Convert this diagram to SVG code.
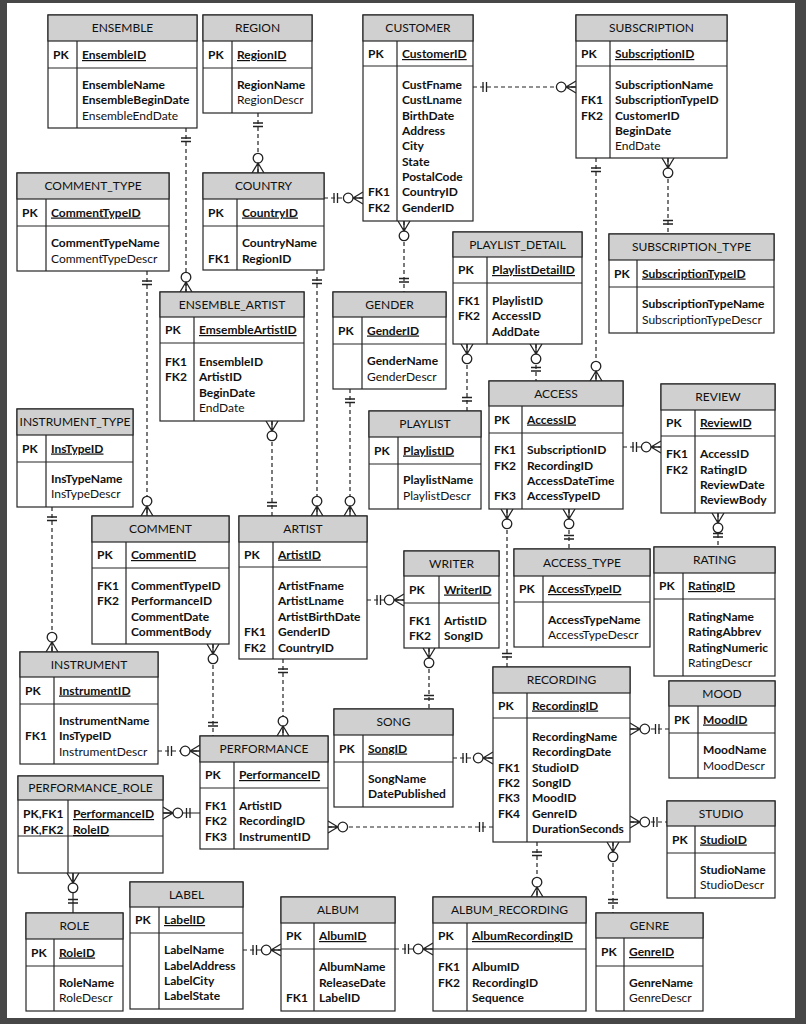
<svg xmlns="http://www.w3.org/2000/svg" width="806" height="1024" viewBox="0 0 806 1024">
<defs>
<style>
.b0{fill:#fff;stroke:#262626;stroke-width:1.2}
.hd{fill:#d0d0d0;stroke:#262626;stroke-width:1.2}
.ln{fill:none;stroke:#262626;stroke-width:1.2}
text{font-family:Lato,'Liberation Sans',sans-serif;font-size:12px;fill:#111}
.t{text-anchor:middle}
.k,.b,.pk{font-weight:bold}
.pk{text-decoration:underline}
.c{fill:none;stroke:#222;stroke-width:1.2;stroke-dasharray:4 3}
.s{stroke-dasharray:none}
.m{fill:none;stroke:#222;stroke-width:1.3}
.mc{fill:#fff;stroke:#222;stroke-width:1.3}
</style>
<marker id="many" markerUnits="userSpaceOnUse" orient="auto-start-reverse" overflow="visible" refX="0" refY="0" markerWidth="1" markerHeight="1">
<path class="m" d="M-10,0L0,-6M-10,0L0,6M-10,0L0,0"/>
<circle class="mc" cx="-14.8" cy="0" r="4.8"/>
</marker>
<marker id="one" markerUnits="userSpaceOnUse" orient="auto-start-reverse" overflow="visible" refX="0" refY="0" markerWidth="1" markerHeight="1">
<path class="m" d="M-10,-5V5M-13.5,-5V5"/>
</marker>
</defs>
<rect x="0" y="0" width="806" height="1024" fill="#474747"/>
<rect x="7" y="3" width="788" height="1015" fill="#fff"/>

<g id="connectors">
<path class="c" d="M186,128V292" marker-start="url(#one)" marker-end="url(#many)"/>
<path class="c" d="M258,113V173" marker-start="url(#one)" marker-end="url(#many)"/>
<path class="c" d="M324,198H363" marker-start="url(#one)" marker-end="url(#many)"/>
<path class="c" d="M473,87H576" marker-start="url(#one)" marker-end="url(#many)"/>
<path class="c" d="M404,221V292" marker-start="url(#many)" marker-end="url(#one)"/>
<path class="c" d="M668,158V234" marker-start="url(#many)" marker-end="url(#one)"/>
<path class="c" d="M596,158V381" marker-start="url(#one)" marker-end="url(#many)"/>
<path class="c" d="M147,271V516" marker-start="url(#one)" marker-end="url(#many)"/>
<path class="c" d="M317,270V516" marker-start="url(#one)" marker-end="url(#many)"/>
<path class="c" d="M272,421V516" marker-start="url(#many)" marker-end="url(#one)"/>
<path class="c" d="M350,389V516" marker-start="url(#one)" marker-end="url(#many)"/>
<path class="c" d="M467,344V411" marker-start="url(#many)" marker-end="url(#one)"/>
<path class="c" d="M536,344V381" marker-start="url(#many)" marker-end="url(#one)"/>
<path class="c" d="M623,447H661" marker-start="url(#one)" marker-end="url(#many)"/>
<path class="c" d="M569,509V549" marker-start="url(#many)" marker-end="url(#one)"/>
<path class="c" d="M718,513V547" marker-start="url(#many)" marker-end="url(#one)"/>
<path class="c" d="M507,509V667" marker-start="url(#many)" marker-end="url(#one)"/>
<path class="c" d="M52,507V652" marker-start="url(#one)" marker-end="url(#many)"/>
<path class="c" d="M213,644V736" marker-start="url(#many)" marker-end="url(#one)"/>
<path class="c" d="M158,751H200" marker-start="url(#one)" marker-end="url(#many)"/>
<path class="c" d="M283,659V736" marker-start="url(#one)" marker-end="url(#many)"/>
<path class="c" d="M367,600H404" marker-start="url(#one)" marker-end="url(#many)"/>
<path class="c" d="M429,648V709" marker-start="url(#many)" marker-end="url(#one)"/>
<path class="c" d="M453,758H493" marker-start="url(#one)" marker-end="url(#many)"/>
<path class="c" d="M328,827H493" marker-start="url(#many)" marker-end="url(#one)"/>
<path class="c s" d="M163,813H200" marker-start="url(#many)" marker-end="url(#one)"/>
<path class="c" d="M630,729H669" marker-start="url(#many)" marker-end="url(#one)"/>
<path class="c" d="M630,822H667" marker-start="url(#many)" marker-end="url(#one)"/>
<path class="c" d="M613,842V913" marker-start="url(#many)" marker-end="url(#one)"/>
<path class="c" d="M537,842V897" marker-start="url(#one)" marker-end="url(#many)"/>
<path class="c" d="M395,949H433" marker-start="url(#one)" marker-end="url(#many)"/>
<path class="c" d="M243,950H281" marker-start="url(#one)" marker-end="url(#many)"/>
<path class="c s" d="M73,873V913" marker-start="url(#many)" marker-end="url(#one)"/>
</g>

<g id="ensemble">
<rect class="b0" x="48" y="15" width="149" height="113"/>
<rect class="hd" x="48" y="15" width="149" height="26"/>
<path class="ln" d="M48,68H197M77,41V128"/>
<text class="t" x="122.5" y="32">ENSEMBLE</text>
<text class="k" x="53" y="59">PK</text>
<text class="pk" x="82" y="59">EnsembleID</text>
<text class="b" x="82" y="89">EnsembleName</text>
<text class="b" x="82" y="104">EnsembleBeginDate</text>
<text x="82" y="120">EnsembleEndDate</text>
</g>

<g id="region">
<rect class="b0" x="203" y="15" width="109" height="98"/>
<rect class="hd" x="203" y="15" width="109" height="26"/>
<path class="ln" d="M203,68H312M232,41V113"/>
<text class="t" x="257.5" y="32">REGION</text>
<text class="k" x="208" y="59">PK</text>
<text class="pk" x="237" y="59">RegionID</text>
<text class="b" x="237" y="89">RegionName</text>
<text x="237" y="104">RegionDescr</text>
</g>

<g id="customer">
<rect class="b0" x="363" y="15" width="110" height="206"/>
<rect class="hd" x="363" y="15" width="110" height="26"/>
<path class="ln" d="M363,66H473M397,41V221"/>
<text class="t" x="418" y="32">CUSTOMER</text>
<text class="k" x="368" y="58">PK</text>
<text class="pk" x="402" y="58">CustomerID</text>
<text class="b" x="402" y="89">CustFname</text>
<text class="b" x="402" y="104">CustLname</text>
<text class="b" x="402" y="120">BirthDate</text>
<text class="b" x="402" y="135">Address</text>
<text class="b" x="402" y="150">City</text>
<text class="b" x="402" y="166">State</text>
<text class="b" x="402" y="181">PostalCode</text>
<text class="k" x="368" y="196">FK1</text>
<text class="b" x="402" y="196">CountryID</text>
<text class="k" x="368" y="212">FK2</text>
<text class="b" x="402" y="212">GenderID</text>
</g>

<g id="subscription">
<rect class="b0" x="576" y="15" width="151" height="143"/>
<rect class="hd" x="576" y="15" width="151" height="26"/>
<path class="ln" d="M576,66H727M610,41V158"/>
<text class="t" x="651.5" y="32">SUBSCRIPTION</text>
<text class="k" x="581" y="58">PK</text>
<text class="pk" x="615" y="58">SubscriptionID</text>
<text class="b" x="615" y="89">SubscriptionName</text>
<text class="k" x="581" y="104">FK1</text>
<text class="b" x="615" y="104">SubscriptionTypeID</text>
<text class="k" x="581" y="120">FK2</text>
<text class="b" x="615" y="120">CustomerID</text>
<text class="b" x="615" y="135">BeginDate</text>
<text x="615" y="150">EndDate</text>
</g>

<g id="subscription_type">
<rect class="b0" x="609" y="234" width="165" height="99"/>
<rect class="hd" x="609" y="234" width="165" height="26"/>
<path class="ln" d="M609,287H774M637,260V333"/>
<text class="t" x="691.5" y="251">SUBSCRIPTION_TYPE</text>
<text class="k" x="614" y="277.5">PK</text>
<text class="pk" x="642" y="277.5">SubscriptionTypeID</text>
<text class="b" x="642" y="308">SubscriptionTypeName</text>
<text x="642" y="324">SubscriptionTypeDescr</text>
</g>

<g id="comment_type">
<rect class="b0" x="17" y="173" width="152" height="98"/>
<rect class="hd" x="17" y="173" width="152" height="26"/>
<path class="ln" d="M17,226H169M46,199V271"/>
<text class="t" x="93" y="190">COMMENT_TYPE</text>
<text class="k" x="22" y="216.5">PK</text>
<text class="pk" x="51" y="216.5">CommentTypeID</text>
<text class="b" x="51" y="247">CommentTypeName</text>
<text x="51" y="263">CommentTypeDescr</text>
</g>

<g id="country">
<rect class="b0" x="203" y="173" width="121" height="97"/>
<rect class="hd" x="203" y="173" width="121" height="26"/>
<path class="ln" d="M203,226H324M237,199V270"/>
<text class="t" x="263.5" y="190">COUNTRY</text>
<text class="k" x="208" y="216.5">PK</text>
<text class="pk" x="242" y="216.5">CountryID</text>
<text class="b" x="242" y="247">CountryName</text>
<text class="k" x="208" y="263">FK1</text>
<text class="b" x="242" y="263">RegionID</text>
</g>

<g id="ensemble_artist">
<rect class="b0" x="160" y="292" width="144" height="129"/>
<rect class="hd" x="160" y="292" width="144" height="25"/>
<path class="ln" d="M160,343H304M194,317V421"/>
<text class="t" x="232" y="308.5">ENSEMBLE_ARTIST</text>
<text class="k" x="165" y="334">PK</text>
<text class="pk" x="199" y="334">EmsembleArtistID</text>
<text class="k" x="165" y="366">FK1</text>
<text class="b" x="199" y="366">EnsembleID</text>
<text class="k" x="165" y="381">FK2</text>
<text class="b" x="199" y="381">ArtistID</text>
<text class="b" x="199" y="397">BeginDate</text>
<text x="199" y="412">EndDate</text>
</g>

<g id="gender">
<rect class="b0" x="333" y="292" width="113" height="97"/>
<rect class="hd" x="333" y="292" width="113" height="25"/>
<path class="ln" d="M333,344H446M362,317V389"/>
<text class="t" x="389.5" y="308.5">GENDER</text>
<text class="k" x="338" y="334.5">PK</text>
<text class="pk" x="367" y="334.5">GenderID</text>
<text class="b" x="367" y="365">GenderName</text>
<text x="367" y="381">GenderDescr</text>
</g>

<g id="playlist_detail">
<rect class="b0" x="453" y="232" width="129" height="112"/>
<rect class="hd" x="453" y="232" width="129" height="25"/>
<path class="ln" d="M453,283H582M487,257V344"/>
<text class="t" x="517.5" y="248.5">PLAYLIST_DETAIL</text>
<text class="k" x="458" y="274">PK</text>
<text class="pk" x="492" y="274">PlaylistDetailID</text>
<text class="k" x="458" y="305">FK1</text>
<text class="b" x="492" y="305">PlaylistID</text>
<text class="k" x="458" y="320">FK2</text>
<text class="b" x="492" y="320">AccessID</text>
<text class="b" x="492" y="336">AddDate</text>
</g>

<g id="access">
<rect class="b0" x="489" y="381" width="134" height="128"/>
<rect class="hd" x="489" y="381" width="134" height="25"/>
<path class="ln" d="M489,433H623M522,406V509"/>
<text class="t" x="556" y="397.5">ACCESS</text>
<text class="k" x="494" y="423.5">PK</text>
<text class="pk" x="527" y="423.5">AccessID</text>
<text class="k" x="494" y="454">FK1</text>
<text class="b" x="527" y="454">SubscriptionID</text>
<text class="k" x="494" y="470">FK2</text>
<text class="b" x="527" y="470">RecordingID</text>
<text class="b" x="527" y="485">AccessDateTime</text>
<text class="k" x="494" y="500">FK3</text>
<text class="b" x="527" y="500">AccessTypeID</text>
</g>

<g id="playlist">
<rect class="b0" x="369" y="411" width="112" height="98"/>
<rect class="hd" x="369" y="411" width="112" height="26"/>
<path class="ln" d="M369,464H481M398,437V509"/>
<text class="t" x="425" y="428">PLAYLIST</text>
<text class="k" x="374" y="454.5">PK</text>
<text class="pk" x="403" y="454.5">PlaylistID</text>
<text class="b" x="403" y="484">PlaylistName</text>
<text x="403" y="500">PlaylistDescr</text>
</g>

<g id="review">
<rect class="b0" x="661" y="384" width="114" height="129"/>
<rect class="hd" x="661" y="384" width="114" height="26"/>
<path class="ln" d="M661,436H775M695,410V513"/>
<text class="t" x="718" y="401">REVIEW</text>
<text class="k" x="666" y="427">PK</text>
<text class="pk" x="700" y="427">ReviewID</text>
<text class="k" x="666" y="458">FK1</text>
<text class="b" x="700" y="458">AccessID</text>
<text class="k" x="666" y="474">FK2</text>
<text class="b" x="700" y="474">RatingID</text>
<text class="b" x="700" y="489">ReviewDate</text>
<text class="b" x="700" y="504">ReviewBody</text>
</g>

<g id="access_type">
<rect class="b0" x="514" y="549" width="136" height="98"/>
<rect class="hd" x="514" y="549" width="136" height="27"/>
<path class="ln" d="M514,602H650M543,576V647"/>
<text class="t" x="582" y="566.5">ACCESS_TYPE</text>
<text class="k" x="519" y="593">PK</text>
<text class="pk" x="548" y="593">AccessTypeID</text>
<text class="b" x="548" y="624">AccessTypeName</text>
<text x="548" y="639">AccessTypeDescr</text>
</g>

<g id="rating">
<rect class="b0" x="654" y="547" width="121" height="129"/>
<rect class="hd" x="654" y="547" width="121" height="26"/>
<path class="ln" d="M654,599H775M683,573V676"/>
<text class="t" x="714.5" y="564">RATING</text>
<text class="k" x="659" y="590">PK</text>
<text class="pk" x="688" y="590">RatingID</text>
<text class="b" x="688" y="621">RatingName</text>
<text class="b" x="688" y="636">RatingAbbrev</text>
<text class="b" x="688" y="652">RatingNumeric</text>
<text x="688" y="667">RatingDescr</text>
</g>

<g id="instrument_type">
<rect class="b0" x="17" y="409" width="116" height="98"/>
<rect class="hd" x="17" y="409" width="116" height="26"/>
<path class="ln" d="M17,462H133M46,435V507"/>
<text class="t" x="75" y="426">INSTRUMENT_TYPE</text>
<text class="k" x="22" y="452.5">PK</text>
<text class="pk" x="51" y="452.5">InsTypeID</text>
<text class="b" x="51" y="483">InsTypeName</text>
<text x="51" y="498">InsTypeDescr</text>
</g>

<g id="comment">
<rect class="b0" x="92" y="516" width="137" height="128"/>
<rect class="hd" x="92" y="516" width="137" height="26"/>
<path class="ln" d="M92,568H229M126,542V644"/>
<text class="t" x="160.5" y="533">COMMENT</text>
<text class="k" x="97" y="559">PK</text>
<text class="pk" x="131" y="559">CommentID</text>
<text class="k" x="97" y="590">FK1</text>
<text class="b" x="131" y="590">CommentTypeID</text>
<text class="k" x="97" y="605">FK2</text>
<text class="b" x="131" y="605">PerformanceID</text>
<text class="b" x="131" y="621">CommentDate</text>
<text class="b" x="131" y="636">CommentBody</text>
</g>

<g id="artist">
<rect class="b0" x="239" y="516" width="128" height="143"/>
<rect class="hd" x="239" y="516" width="128" height="26"/>
<path class="ln" d="M239,567H367M273,542V659"/>
<text class="t" x="303" y="533">ARTIST</text>
<text class="k" x="244" y="558.5">PK</text>
<text class="pk" x="278" y="558.5">ArtistID</text>
<text class="b" x="278" y="590">ArtistFname</text>
<text class="b" x="278" y="605">ArtistLname</text>
<text class="b" x="278" y="621">ArtistBirthDate</text>
<text class="k" x="244" y="636">FK1</text>
<text class="b" x="278" y="636">GenderID</text>
<text class="k" x="244" y="652">FK2</text>
<text class="b" x="278" y="652">CountryID</text>
</g>

<g id="writer">
<rect class="b0" x="404" y="551" width="95" height="97"/>
<rect class="hd" x="404" y="551" width="95" height="25"/>
<path class="ln" d="M404,603H499M439,576V648"/>
<text class="t" x="451.5" y="567.5">WRITER</text>
<text class="k" x="409" y="593.5">PK</text>
<text class="pk" x="444" y="593.5">WriterID</text>
<text class="k" x="409" y="625">FK1</text>
<text class="b" x="444" y="625">ArtistID</text>
<text class="k" x="409" y="640">FK2</text>
<text class="b" x="444" y="640">SongID</text>
</g>

<g id="instrument">
<rect class="b0" x="20" y="652" width="138" height="112"/>
<rect class="hd" x="20" y="652" width="138" height="25"/>
<path class="ln" d="M20,704H158M54,677V764"/>
<text class="t" x="89" y="668.5">INSTRUMENT</text>
<text class="k" x="25" y="694.5">PK</text>
<text class="pk" x="59" y="694.5">InstrumentID</text>
<text class="b" x="59" y="725">InstrumentName</text>
<text class="k" x="25" y="740">FK1</text>
<text class="b" x="59" y="740">InsTypeID</text>
<text x="59" y="756">InstrumentDescr</text>
</g>

<g id="performance">
<rect class="b0" x="200" y="736" width="128" height="113"/>
<rect class="hd" x="200" y="736" width="128" height="26"/>
<path class="ln" d="M200,788H328M234,762V849"/>
<text class="t" x="264" y="753">PERFORMANCE</text>
<text class="k" x="205" y="779">PK</text>
<text class="pk" x="239" y="779">PerformanceID</text>
<text class="k" x="205" y="810">FK1</text>
<text class="b" x="239" y="810">ArtistID</text>
<text class="k" x="205" y="825">FK2</text>
<text class="b" x="239" y="825">RecordingID</text>
<text class="k" x="205" y="841">FK3</text>
<text class="b" x="239" y="841">InstrumentID</text>
</g>

<g id="performance_role">
<rect class="b0" x="18" y="776" width="145" height="97"/>
<rect class="hd" x="18" y="776" width="145" height="24"/>
<path class="ln" d="M18,836H163M68,800V873"/>
<text class="t" x="90.5" y="792">PERFORMANCE_ROLE</text>
<text class="k" x="23" y="818">PK,FK1</text>
<text class="pk" x="73" y="818">PerformanceID</text>
<text class="k" x="23" y="834">PK,FK2</text>
<text class="pk" x="73" y="834">RoleID</text>
</g>

<g id="song">
<rect class="b0" x="334" y="709" width="119" height="98"/>
<rect class="hd" x="334" y="709" width="119" height="26"/>
<path class="ln" d="M334,762H453M363,735V807"/>
<text class="t" x="393.5" y="726">SONG</text>
<text class="k" x="339" y="752.5">PK</text>
<text class="pk" x="368" y="752.5">SongID</text>
<text class="b" x="368" y="783">SongName</text>
<text class="b" x="368" y="798">DatePublished</text>
</g>

<g id="recording">
<rect class="b0" x="493" y="667" width="137" height="175"/>
<rect class="hd" x="493" y="667" width="137" height="26"/>
<path class="ln" d="M493,718H630M527,693V842"/>
<text class="t" x="561.5" y="684">RECORDING</text>
<text class="k" x="498" y="709.5">PK</text>
<text class="pk" x="532" y="709.5">RecordingID</text>
<text class="b" x="532" y="741">RecordingName</text>
<text class="b" x="532" y="756">RecordingDate</text>
<text class="k" x="498" y="772">FK1</text>
<text class="b" x="532" y="772">StudioID</text>
<text class="k" x="498" y="787">FK2</text>
<text class="b" x="532" y="787">SongID</text>
<text class="k" x="498" y="802">FK3</text>
<text class="b" x="532" y="802">MoodID</text>
<text class="k" x="498" y="818">FK4</text>
<text class="b" x="532" y="818">GenreID</text>
<text class="b" x="532" y="833">DurationSeconds</text>
</g>

<g id="mood">
<rect class="b0" x="669" y="681" width="106" height="97"/>
<rect class="hd" x="669" y="681" width="106" height="25"/>
<path class="ln" d="M669,733H775M698,706V778"/>
<text class="t" x="722" y="697.5">MOOD</text>
<text class="k" x="674" y="723.5">PK</text>
<text class="pk" x="703" y="723.5">MoodID</text>
<text class="b" x="703" y="754">MoodName</text>
<text x="703" y="770">MoodDescr</text>
</g>

<g id="studio">
<rect class="b0" x="667" y="801" width="108" height="97"/>
<rect class="hd" x="667" y="801" width="108" height="25"/>
<path class="ln" d="M667,853H775M695,826V898"/>
<text class="t" x="721" y="817.5">STUDIO</text>
<text class="k" x="672" y="843.5">PK</text>
<text class="pk" x="700" y="843.5">StudioID</text>
<text class="b" x="700" y="874">StudioName</text>
<text x="700" y="889">StudioDescr</text>
</g>

<g id="genre">
<rect class="b0" x="596" y="913" width="107" height="98"/>
<rect class="hd" x="596" y="913" width="107" height="25"/>
<path class="ln" d="M596,966H703M624,938V1011"/>
<text class="t" x="649.5" y="929.5">GENRE</text>
<text class="k" x="601" y="956">PK</text>
<text class="pk" x="629" y="956">GenreID</text>
<text class="b" x="629" y="987">GenreName</text>
<text x="629" y="1002">GenreDescr</text>
</g>

<g id="role">
<rect class="b0" x="26" y="913" width="97" height="98"/>
<rect class="hd" x="26" y="913" width="97" height="26"/>
<path class="ln" d="M26,966H123M54,939V1011"/>
<text class="t" x="74.5" y="930">ROLE</text>
<text class="k" x="31" y="956.5">PK</text>
<text class="pk" x="59" y="956.5">RoleID</text>
<text class="b" x="59" y="987">RoleName</text>
<text x="59" y="1002">RoleDescr</text>
</g>

<g id="label">
<rect class="b0" x="130" y="882" width="113" height="127"/>
<rect class="hd" x="130" y="882" width="113" height="25"/>
<path class="ln" d="M130,933H243M159,907V1009"/>
<text class="t" x="186.5" y="898.5">LABEL</text>
<text class="k" x="135" y="924">PK</text>
<text class="pk" x="164" y="924">LabelID</text>
<text class="b" x="164" y="954">LabelName</text>
<text class="b" x="164" y="970">LabelAddress</text>
<text class="b" x="164" y="985">LabelCity</text>
<text class="b" x="164" y="1000">LabelState</text>
</g>

<g id="album">
<rect class="b0" x="281" y="897" width="114" height="114"/>
<rect class="hd" x="281" y="897" width="114" height="26"/>
<path class="ln" d="M281,949H395M314,923V1011"/>
<text class="t" x="338" y="914">ALBUM</text>
<text class="k" x="286" y="940">PK</text>
<text class="pk" x="319" y="940">AlbumID</text>
<text class="b" x="319" y="971">AlbumName</text>
<text class="b" x="319" y="987">ReleaseDate</text>
<text class="k" x="286" y="1002">FK1</text>
<text class="b" x="319" y="1002">LabelID</text>
</g>

<g id="album_recording">
<rect class="b0" x="433" y="897" width="153" height="114"/>
<rect class="hd" x="433" y="897" width="153" height="26"/>
<path class="ln" d="M433,949H586M467,923V1011"/>
<text class="t" x="509.5" y="914">ALBUM_RECORDING</text>
<text class="k" x="438" y="940">PK</text>
<text class="pk" x="472" y="940">AlbumRecordingID</text>
<text class="k" x="438" y="971">FK1</text>
<text class="b" x="472" y="971">AlbumID</text>
<text class="k" x="438" y="987">FK2</text>
<text class="b" x="472" y="987">RecordingID</text>
<text class="b" x="472" y="1002">Sequence</text>
</g>
</svg>
